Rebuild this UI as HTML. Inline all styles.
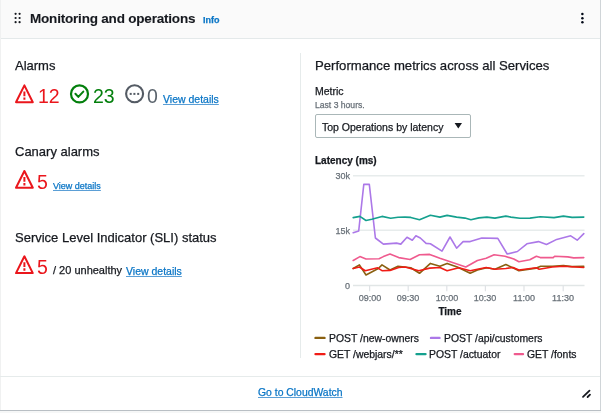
<!DOCTYPE html>
<html><head><meta charset="utf-8"><style>
html,body{margin:0;padding:0;width:601px;height:413px;overflow:hidden;background:#f6f7f7;}
body{position:relative;font-family:"Liberation Sans",sans-serif;}
.t{position:absolute;line-height:1;white-space:nowrap;will-change:transform;-webkit-text-stroke:0.25px currentColor;}
#card{position:absolute;left:0;top:0;width:600px;height:410px;background:#fff;}
#hdr{position:absolute;left:0;top:0;width:600px;height:38px;background:#fafafa;border-bottom:1px solid #e4e9ea;}
#lb{position:absolute;left:0;top:0;width:1px;height:410px;background:#f0f1f1;}
#rb{position:absolute;left:600px;top:0;width:1px;height:411px;background:#d0d5d8;}
#bb{position:absolute;left:0;top:410px;width:601px;height:1px;background:#b9bfc4;}
#div{position:absolute;left:300px;top:53px;width:1px;height:305px;background:#e6ebeb;}
#foot{position:absolute;left:0;top:376px;width:600px;height:1px;background:#e6ebeb;}
#sel{position:absolute;left:315px;top:114px;width:154px;height:22px;border:1px solid #aab7b8;border-radius:2px;background:#fff;}
svg{position:absolute;left:0;top:0;}
</style></head><body>
<div id="card"></div>
<div id="hdr"></div>
<div id="lb"></div><div id="rb"></div><div id="bb"></div>
<div id="div"></div><div id="foot"></div>
<div id="sel"></div>
<svg width="601" height="413" viewBox="0 0 601 413">
<line x1="353" y1="175.7" x2="584.5" y2="175.7" stroke="#e7ecec" stroke-width="1.6"/>
<line x1="353" y1="230.3" x2="584.5" y2="230.3" stroke="#e7ecec" stroke-width="1.6"/>
<line x1="353" y1="285.5" x2="584.5" y2="285.5" stroke="#e1e6e6" stroke-width="1.5"/>
<line x1="369.6" y1="285.5" x2="369.6" y2="291.3" stroke="#dfe2e5" stroke-width="1.2"/>
<line x1="408.2" y1="285.5" x2="408.2" y2="291.3" stroke="#dfe2e5" stroke-width="1.2"/>
<line x1="446.8" y1="285.5" x2="446.8" y2="291.3" stroke="#dfe2e5" stroke-width="1.2"/>
<line x1="485.4" y1="285.5" x2="485.4" y2="291.3" stroke="#dfe2e5" stroke-width="1.2"/>
<line x1="524.0" y1="285.5" x2="524.0" y2="291.3" stroke="#dfe2e5" stroke-width="1.2"/>
<line x1="563.2" y1="285.5" x2="563.2" y2="291.3" stroke="#dfe2e5" stroke-width="1.2"/>
<polyline fill="none" stroke="#8a6010" stroke-width="1.6" stroke-linejoin="round" stroke-linecap="round" points="353.2,268.5 359.4,264.9 366,275 378.3,268.5 382,264.9 390,270 398,266.3 410.8,267.8 419.5,273.3 430.4,263.4 439.9,266.3 447.1,263.4 457.3,267 470.2,273.3 477.4,270 486.9,267.8 494.9,269.2 505.8,264.6 512.3,267.5 518.9,270.7 536.3,268.1 540.7,266.3 552.3,266.3 563.4,265.6 572.1,266.6 583.8,266.3"/>
<polyline fill="none" stroke="#ac78e8" stroke-width="1.6" stroke-linejoin="round" stroke-linecap="round" points="353.2,232.8 358.7,231 363.8,184.4 369.3,184.4 375.4,238 383.4,244.1 396.5,243.1 400.8,244.1 407,237.3 412.3,240.2 415.9,235.8 420.3,238 426.1,243.4 430.4,243.8 442,251.1 450,237 456.6,248.2 463.1,241.6 470.2,241.6 481.8,238 497.8,238.4 507.2,254 517.4,251.5 526.9,243.8 538.5,241.6 546.5,244.5 556.7,239.4 570.7,235.8 577.2,240.2 583.8,233.6"/>
<polyline fill="none" stroke="#f01c16" stroke-width="1.6" stroke-linejoin="round" stroke-linecap="round" points="353.2,268.5 359.4,267 365.3,270.7 377.6,267.8 382,270.7 390,270.4 398.7,267.5 405,267 418.8,270.7 429.7,268.1 439.9,267.5 447.1,270.7 458.8,267.8 470.2,270.7 477.4,269.2 486.2,267.5 494.9,269.2 505.8,268.5 513.1,267.5 518.9,270 536.3,267.8 539.2,269.2 552.3,267 563.4,266.3 583.8,267.5"/>
<polyline fill="none" stroke="#14a08e" stroke-width="1.6" stroke-linejoin="round" stroke-linecap="round" points="353.2,217.6 359.9,216.4 366,220.5 371.8,219.3 382,216.4 390.7,218.2 398,217.2 405,217.1 410.8,217.4 419.5,219.7 430.4,215.2 439.9,217.1 447.1,215.4 456.6,217.1 465,218.1 470.9,219.7 478.9,217.9 486.9,217.1 494.9,218.1 505.8,216.1 510.9,217.1 520,218.3 530,218.1 540.2,216.8 554,217.6 563.4,216.1 572.1,217.4 583.8,217.1"/>
<polyline fill="none" stroke="#ef5a8e" stroke-width="1.6" stroke-linejoin="round" stroke-linecap="round" points="353.2,260.5 359.9,256.6 366,259 379,258.8 383.4,256.6 390,254 398.7,257.6 410.1,259.5 419.5,254.7 429.7,254.4 439.9,258.3 465.8,267 477.4,260.5 486.2,258.3 494.1,254.7 505,256.2 513.8,259 518.9,261.7 529.8,259.8 536.4,256.2 540.2,257.6 553.2,257.6 554.6,256.2 567.8,256.9 573.6,257.9 583.8,257.6"/>
<line x1="315.5" y1="337.9" x2="324.5" y2="337.9" stroke="#8a6010" stroke-width="2.4" stroke-linecap="round"/>
<line x1="431" y1="337.9" x2="439.5" y2="337.9" stroke="#ac78e8" stroke-width="2.4" stroke-linecap="round"/>
<line x1="315.5" y1="354.1" x2="324.5" y2="354.1" stroke="#f01c16" stroke-width="2.4" stroke-linecap="round"/>
<line x1="416.5" y1="354.1" x2="425.5" y2="354.1" stroke="#14a08e" stroke-width="2.4" stroke-linecap="round"/>
<line x1="514.8" y1="354.1" x2="523" y2="354.1" stroke="#ef5a8e" stroke-width="2.4" stroke-linecap="round"/>
<g transform="translate(14.8,84.2) scale(1.2)" fill="none" stroke="#ea161c" stroke-width="1.6666666666666667" stroke-linejoin="round"><path d="M8 1 1 15h14L8 1Z"/><path d="M8 6v4M8 11v2"/></g>
<g transform="translate(14.8,169.8) scale(1.2)" fill="none" stroke="#ea161c" stroke-width="1.6666666666666667" stroke-linejoin="round"><path d="M8 1 1 15h14L8 1Z"/><path d="M8 6v4M8 11v2"/></g>
<g transform="translate(14.8,255.1) scale(1.2)" fill="none" stroke="#ea161c" stroke-width="1.6666666666666667" stroke-linejoin="round"><path d="M8 1 1 15h14L8 1Z"/><path d="M8 6v4M8 11v2"/></g>
<circle cx="79.5" cy="93.9" r="8.5" fill="none" stroke="#037f0c" stroke-width="2.2"/>
<path d="M75.4 93.8 78.3 96.9 83.3 91.6" fill="none" stroke="#037f0c" stroke-width="2" stroke-linejoin="round" stroke-linecap="round"/>
<circle cx="134.6" cy="93.8" r="8.5" fill="none" stroke="#545b64" stroke-width="2.1"/>
<rect x="129.7" y="92.9" width="2" height="2" fill="#545b64"/>
<rect x="133.4" y="92.9" width="2" height="2" fill="#545b64"/>
<rect x="137.2" y="92.9" width="2" height="2" fill="#545b64"/>
<path d="M454.6 123h7.4l-3.7 5.6z" fill="#16191f"/>
<path d="M583 396.8 589.5 390.6M587.6 397 590 394.6" stroke="#16191f" stroke-width="1.8" stroke-linecap="round" fill="none"/>
<circle cx="15.6" cy="13.8" r="1.1" fill="#16191f"/>
<circle cx="15.6" cy="18.0" r="1.1" fill="#16191f"/>
<circle cx="15.6" cy="22.2" r="1.1" fill="#16191f"/>
<circle cx="19.6" cy="13.8" r="1.1" fill="#16191f"/>
<circle cx="19.6" cy="18.0" r="1.1" fill="#16191f"/>
<circle cx="19.6" cy="22.2" r="1.1" fill="#16191f"/>
<circle cx="582.4" cy="14.1" r="1.25" fill="#000716"/>
<circle cx="582.4" cy="18.2" r="1.25" fill="#000716"/>
<circle cx="582.4" cy="22.3" r="1.25" fill="#000716"/>
</svg>
<div class="t" style="left:30.00px;top:11.97px;font-size:13.5px;color:#16191f;font-weight:700;letter-spacing:-0.2px;-webkit-text-stroke:0.1px currentColor;">Monitoring and operations</div>
<div class="t" style="left:202.60px;top:15.58px;font-size:9px;color:#0b76c6;font-weight:700;">Info</div>
<div class="t" style="left:15.00px;top:59.30px;font-size:13px;color:#16191f;font-weight:400;">Alarms</div>
<div class="t" style="left:38.00px;top:86.69px;font-size:19.5px;color:#ea161c;font-weight:400;-webkit-text-stroke:0;">12</div>
<div class="t" style="left:92.80px;top:86.69px;font-size:19.5px;color:#037f0c;font-weight:400;-webkit-text-stroke:0;">23</div>
<div class="t" style="left:147.00px;top:86.69px;font-size:19.5px;color:#5a636c;font-weight:400;-webkit-text-stroke:0;">0</div>
<div class="t" style="left:162.80px;top:94.31px;font-size:10.5px;color:#0b76c6;font-weight:400;text-decoration:underline;text-decoration-color:#5b9fd6;text-underline-offset:1.3px;">View details</div>
<div class="t" style="left:15.00px;top:145.00px;font-size:13px;color:#16191f;font-weight:400;">Canary alarms</div>
<div class="t" style="left:37.00px;top:173.09px;font-size:19.5px;color:#ea161c;font-weight:400;-webkit-text-stroke:0;">5</div>
<div class="t" style="left:52.50px;top:181.58px;font-size:9px;color:#0b76c6;font-weight:400;text-decoration:underline;text-decoration-color:#5b9fd6;text-underline-offset:1.3px;">View details</div>
<div class="t" style="left:15.00px;top:230.80px;font-size:13px;color:#16191f;font-weight:400;">Service Level Indicator (SLI) status</div>
<div class="t" style="left:37.00px;top:258.29px;font-size:19.5px;color:#ea161c;font-weight:400;-webkit-text-stroke:0;">5</div>
<div class="t" style="left:53.00px;top:265.29px;font-size:11px;color:#16191f;font-weight:400;">/ 20 unhealthy</div>
<div class="t" style="left:125.60px;top:265.71px;font-size:10.5px;color:#0b76c6;font-weight:400;text-decoration:underline;text-decoration-color:#5b9fd6;text-underline-offset:1.3px;">View details</div>
<div class="t" style="left:315.30px;top:59.47px;font-size:13.15px;color:#16191f;font-weight:400;">Performance metrics across all Services</div>
<div class="t" style="left:315.30px;top:86.21px;font-size:10.5px;color:#16191f;font-weight:400;">Metric</div>
<div class="t" style="left:315.30px;top:100.62px;font-size:8.6px;color:#687078;font-weight:400;">Last 3 hours.</div>
<div class="t" style="left:322.00px;top:121.61px;font-size:10.5px;color:#16191f;font-weight:400;">Top Operations by latency</div>
<div class="t" style="left:315.30px;top:155.94px;font-size:10px;color:#16191f;font-weight:700;">Latency (ms)</div>
<div class="t" style="left:250.20px;width:100px;text-align:right;top:172.08px;font-size:9px;color:#687078;font-weight:400">30k</div>
<div class="t" style="left:250.20px;width:100px;text-align:right;top:226.68px;font-size:9px;color:#687078;font-weight:400">15k</div>
<div class="t" style="left:250.20px;width:100px;text-align:right;top:281.58px;font-size:9px;color:#687078;font-weight:400">0</div>
<div class="t" style="left:269.60px;width:200px;text-align:center;top:293.58px;font-size:9px;color:#687078;font-weight:400;">09:00</div>
<div class="t" style="left:308.20px;width:200px;text-align:center;top:293.58px;font-size:9px;color:#687078;font-weight:400;">09:30</div>
<div class="t" style="left:346.80px;width:200px;text-align:center;top:293.58px;font-size:9px;color:#687078;font-weight:400;">10:00</div>
<div class="t" style="left:385.40px;width:200px;text-align:center;top:293.58px;font-size:9px;color:#687078;font-weight:400;">10:30</div>
<div class="t" style="left:424.00px;width:200px;text-align:center;top:293.58px;font-size:9px;color:#687078;font-weight:400;">11:00</div>
<div class="t" style="left:463.20px;width:200px;text-align:center;top:293.58px;font-size:9px;color:#687078;font-weight:400;">11:30</div>
<div class="t" style="left:349.60px;width:200px;text-align:center;top:306.54px;font-size:10px;color:#16191f;font-weight:700;">Time</div>
<div class="t" style="left:328.70px;top:334.00px;font-size:10.4px;color:#16191f;font-weight:400;">POST /new-owners</div>
<div class="t" style="left:444.00px;top:334.00px;font-size:10.4px;color:#16191f;font-weight:400;">POST /api/customers</div>
<div class="t" style="left:328.70px;top:350.20px;font-size:10.4px;color:#16191f;font-weight:400;">GET /webjars/**</div>
<div class="t" style="left:429.00px;top:350.20px;font-size:10.4px;color:#16191f;font-weight:400;">POST /actuator</div>
<div class="t" style="left:527.20px;top:350.20px;font-size:10.4px;color:#16191f;font-weight:400;">GET /fonts</div>
<div class="t" style="left:257.60px;top:388.30px;font-size:10.4px;color:#0b76c6;font-weight:400;text-decoration:underline;text-decoration-color:#5b9fd6;text-underline-offset:1.3px;">Go to CloudWatch</div>
</body></html>
